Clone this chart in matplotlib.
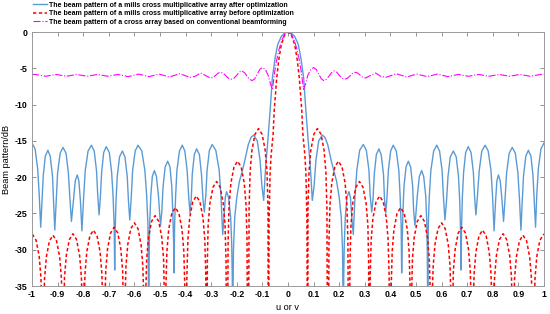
import numpy as np
import matplotlib
matplotlib.use("Agg")
import matplotlib.pyplot as plt
from matplotlib import font_manager

plt.rcParams['font.family'] = ['Liberation Sans', 'DejaVu Sans']
plt.rcParams['font.weight'] = 'bold'
plt.rcParams['axes.unicode_minus'] = False

labels = ["The beam pattern of a mills cross multiplicative array after optimization",
          "The beam pattern of a mills cross multiplicative array before optimization",
          "The beam pattern of a cross array based on conventional beamforming"]

# (u, dB), one lobe per line
after_left = [
    (-1.000, -15.3), (-0.988, -16.1), (-0.978, -18.8), (-0.972, -22.3), (-0.966, -26.9),
    (-0.961, -23.3), (-0.956, -19.8), (-0.948, -17.1), (-0.938, -16.3), (-0.929, -17.1), (-0.920, -19.8), (-0.916, -23.3), (-0.911, -27.3),
    (-0.905, -22.9), (-0.900, -19.4), (-0.890, -16.7), (-0.879, -15.9), (-0.867, -16.7), (-0.858, -19.4), (-0.852, -22.9), (-0.846, -26.1),
    (-0.838, -23.2), (-0.831, -20.5), (-0.823, -19.7), (-0.817, -20.5), (-0.811, -23.2), (-0.805, -27.4),
    (-0.798, -22.6), (-0.792, -19.1), (-0.781, -16.4), (-0.768, -15.6), (-0.757, -16.4), (-0.748, -19.1), (-0.743, -22.6), (-0.738, -25.2),
    (-0.733, -22.8), (-0.728, -19.3), (-0.720, -16.6), (-0.710, -15.8), (-0.698, -16.6), (-0.689, -19.3), (-0.683, -22.8), (-0.679, -26.8), (-0.677, -32.8),
    (-0.675, -27.4), (-0.672, -23.4), (-0.667, -19.9), (-0.658, -17.2), (-0.647, -16.4), (-0.637, -17.2), (-0.628, -19.9), (-0.623, -23.4), (-0.618, -25.9),
    (-0.612, -22.6), (-0.607, -19.1), (-0.597, -16.4), (-0.586, -15.6), (-0.571, -16.4), (-0.559, -19.1), (-0.552, -22.6), (-0.547, -26.6), (-0.544, -40.0),
    (-0.542, -30.1), (-0.540, -26.1), (-0.536, -22.6), (-0.530, -19.9), (-0.522, -19.1), (-0.514, -19.9), (-0.506, -22.6), (-0.498, -26.7),
    (-0.493, -24.8), (-0.488, -21.3), (-0.480, -18.6), (-0.470, -17.8), (-0.461, -18.6), (-0.454, -21.3), (-0.450, -24.8), (-0.447, -28.8), (-0.445, -33.2),
    (-0.443, -26.6), (-0.439, -22.6), (-0.434, -19.1), (-0.424, -16.4), (-0.413, -15.6), (-0.403, -16.4), (-0.394, -19.1), (-0.388, -22.6), (-0.383, -24.9),
    (-0.378, -23.1), (-0.374, -19.6), (-0.366, -16.9), (-0.357, -16.1), (-0.346, -16.9), (-0.338, -19.6), (-0.332, -23.1), (-0.327, -24.8),
    (-0.321, -22.5), (-0.316, -19.0), (-0.307, -16.3), (-0.296, -15.5), (-0.282, -16.3), (-0.269, -19.0), (-0.262, -22.5), (-0.255, -27.9),
    (-0.250, -25.5), (-0.245, -22.8), (-0.240, -22.0), (-0.232, -22.8), (-0.224, -25.5), (-0.220, -29.0), (-0.218, -33.0), (-0.216, -40.0),
    (-0.213, -30.0), (-0.208, -25.5), (-0.200, -22.8), (-0.190, -20.6), (-0.181, -19.5), (-0.170, -17.9), (-0.155, -15.5), (-0.144, -14.5), (-0.134, -14.2),
    (-0.120, -15.0), (-0.109, -17.7), (-0.102, -21.2), (-0.095, -23.2),
    (-0.092, -21.3), (-0.087, -18.4), (-0.080, -15.5), (-0.075, -13.2), (-0.070, -10.9), (-0.061, -6.3), (-0.050, -3.5), (-0.040, -1.7), (-0.026, -0.6), (-0.013, -0.15),
    (0.000, 0.0),
]
after_right = [
    (0.013, -0.15), (0.026, -0.6), (0.040, -1.7), (0.050, -3.5), (0.061, -6.3), (0.070, -10.9), (0.075, -13.2), (0.080, -15.5), (0.087, -18.4), (0.092, -21.3), (0.095, -23.2),
    (0.102, -21.2), (0.109, -17.7), (0.120, -15.0), (0.134, -14.2),
    (0.144, -14.5), (0.155, -15.5), (0.170, -17.9), (0.182, -19.5), (0.190, -20.6), (0.200, -22.8), (0.208, -25.5), (0.213, -30.0), (0.216, -40.0),
    (0.218, -33.0), (0.220, -29.0), (0.224, -25.5), (0.230, -22.8), (0.238, -22.0), (0.244, -22.8), (0.249, -25.5), (0.255, -27.9),
    (0.262, -22.5), (0.269, -19.0), (0.280, -16.3), (0.294, -15.5), (0.306, -16.3), (0.316, -19.0), (0.321, -22.5), (0.327, -24.8),
    (0.332, -23.1), (0.337, -19.6), (0.345, -16.9), (0.355, -16.1), (0.364, -16.9), (0.373, -19.6), (0.377, -23.1), (0.382, -24.9),
    (0.387, -22.6), (0.392, -19.1), (0.401, -16.4), (0.411, -15.6), (0.423, -16.4), (0.433, -19.1), (0.438, -22.6), (0.442, -26.6), (0.444, -33.2),
    (0.446, -28.8), (0.449, -24.8), (0.453, -21.3), (0.461, -18.6), (0.470, -17.8), (0.479, -18.6), (0.487, -21.3), (0.491, -24.8), (0.496, -26.7),
    (0.505, -22.6), (0.513, -19.9), (0.522, -19.1), (0.530, -19.9), (0.538, -22.6), (0.542, -26.1), (0.544, -30.1), (0.546, -40.0),
    (0.548, -26.6), (0.552, -22.6), (0.558, -19.1), (0.569, -16.4), (0.581, -15.6), (0.592, -16.4), (0.602, -19.1), (0.607, -22.6), (0.613, -25.9),
    (0.619, -23.4), (0.625, -19.9), (0.634, -17.2), (0.646, -16.4), (0.657, -17.2), (0.666, -19.9), (0.671, -23.4), (0.674, -27.4), (0.676, -32.8),
    (0.678, -26.8), (0.681, -22.8), (0.686, -19.3), (0.694, -16.6), (0.704, -15.8), (0.715, -16.6), (0.724, -19.3), (0.729, -22.8), (0.734, -25.2),
    (0.740, -22.6), (0.747, -19.1), (0.757, -16.4), (0.770, -15.6), (0.782, -16.4), (0.793, -19.1), (0.799, -22.6), (0.805, -27.4),
    (0.811, -23.2), (0.816, -20.5), (0.822, -19.7), (0.829, -20.5), (0.836, -23.2), (0.842, -26.1),
    (0.848, -22.9), (0.854, -19.4), (0.864, -16.7), (0.876, -15.9), (0.888, -16.7), (0.898, -19.4), (0.904, -22.9), (0.910, -27.3),
    (0.915, -23.3), (0.920, -19.8), (0.929, -17.1), (0.939, -16.3), (0.949, -17.1), (0.957, -19.8), (0.962, -23.3), (0.967, -26.9),
    (0.972, -22.3), (0.978, -18.8), (0.988, -16.1), (1.000, -15.3),
]

before_left = [
    (-1.000, -27.9), (-0.998, -27.9), (-0.984, -28.7), (-0.972, -30.9), (-0.965, -33.9), (-0.961, -38.9), (-0.958, -60),
    (-0.955, -39.0), (-0.951, -34.0), (-0.944, -31.0), (-0.932, -28.8), (-0.918, -28.0), (-0.904, -28.8), (-0.892, -31.0), (-0.885, -34.0), (-0.882, -39.0), (-0.879, -60),
    (-0.876, -38.8), (-0.873, -33.8), (-0.866, -30.8), (-0.854, -28.6), (-0.840, -27.8), (-0.826, -28.6), (-0.814, -30.8), (-0.807, -33.8), (-0.803, -38.8), (-0.800, -60),
    (-0.797, -38.3), (-0.793, -33.3), (-0.786, -30.3), (-0.774, -28.1), (-0.760, -27.3), (-0.746, -28.1), (-0.734, -30.3), (-0.727, -33.3), (-0.723, -38.3), (-0.720, -60),
    (-0.716, -37.9), (-0.712, -32.9), (-0.705, -29.9), (-0.693, -27.7), (-0.679, -26.9), (-0.665, -27.7), (-0.653, -29.9), (-0.646, -32.9), (-0.643, -37.9), (-0.640, -60),
    (-0.637, -37.3), (-0.633, -32.3), (-0.626, -29.3), (-0.614, -27.1), (-0.600, -26.3), (-0.586, -27.1), (-0.574, -29.3), (-0.567, -32.3), (-0.563, -37.3), (-0.560, -60),
    (-0.556, -36.3), (-0.552, -31.3), (-0.545, -28.3), (-0.533, -26.1), (-0.519, -25.3), (-0.505, -26.1), (-0.493, -28.3), (-0.486, -31.3), (-0.483, -36.3), (-0.480, -60),
    (-0.477, -35.2), (-0.473, -30.2), (-0.466, -27.2), (-0.454, -25.0), (-0.440, -24.2), (-0.426, -25.0), (-0.414, -27.2), (-0.407, -30.2), (-0.403, -35.2), (-0.399, -60),
    (-0.395, -33.6), (-0.391, -28.6), (-0.384, -25.6), (-0.372, -23.4), (-0.358, -22.6), (-0.344, -23.4), (-0.332, -25.6), (-0.325, -28.6), (-0.321, -33.6), (-0.318, -60),
    (-0.315, -31.6), (-0.312, -26.6), (-0.305, -23.6), (-0.293, -21.4), (-0.279, -20.6), (-0.265, -21.4), (-0.253, -23.6), (-0.246, -26.6), (-0.242, -31.6), (-0.238, -60),
    (-0.234, -28.8), (-0.230, -23.8), (-0.223, -20.8), (-0.211, -18.6), (-0.197, -17.8), (-0.183, -18.6), (-0.171, -20.8), (-0.164, -23.8), (-0.160, -28.8), (-0.156, -60),
    (-0.152, -24.3), (-0.148, -19.3), (-0.141, -16.3), (-0.129, -14.1), (-0.115, -13.3), (-0.101, -14.1), (-0.089, -16.3), (-0.082, -19.3), (-0.078, -24.3), (-0.077, -60),
    (-0.074, -26.0), (-0.070, -19.5), (-0.066, -17.0), (-0.058, -14.0), (-0.054, -10.9), (-0.044, -6.3), (-0.036, -3.8), (-0.026, -1.7), (-0.013, -0.4),
    (0.000, 0.0),
]
before_right = [
    (0.013, -0.4), (0.026, -1.7), (0.036, -3.8), (0.044, -6.3), (0.054, -10.9), (0.058, -14.0), (0.066, -17.0), (0.070, -19.5), (0.074, -26.0), (0.077, -60),
    (0.078, -24.3), (0.082, -19.3), (0.089, -16.3), (0.101, -14.1), (0.115, -13.3), (0.129, -14.1), (0.141, -16.3), (0.148, -19.3), (0.152, -24.3), (0.156, -60),
    (0.160, -28.8), (0.164, -23.8), (0.171, -20.8), (0.183, -18.6), (0.197, -17.8), (0.211, -18.6), (0.223, -20.8), (0.230, -23.8), (0.234, -28.8), (0.238, -60),
    (0.242, -31.6), (0.246, -26.6), (0.253, -23.6), (0.265, -21.4), (0.279, -20.6), (0.293, -21.4), (0.305, -23.6), (0.312, -26.6), (0.315, -31.6), (0.318, -60),
    (0.321, -33.6), (0.325, -28.6), (0.332, -25.6), (0.344, -23.4), (0.358, -22.6), (0.372, -23.4), (0.384, -25.6), (0.391, -28.6), (0.395, -33.6), (0.399, -60),
    (0.403, -35.2), (0.407, -30.2), (0.414, -27.2), (0.426, -25.0), (0.440, -24.2), (0.454, -25.0), (0.466, -27.2), (0.473, -30.2), (0.477, -35.2), (0.480, -60),
    (0.483, -36.3), (0.486, -31.3), (0.493, -28.3), (0.505, -26.1), (0.519, -25.3), (0.533, -26.1), (0.545, -28.3), (0.552, -31.3), (0.556, -36.3), (0.560, -60),
    (0.563, -37.3), (0.567, -32.3), (0.574, -29.3), (0.586, -27.1), (0.600, -26.3), (0.614, -27.1), (0.626, -29.3), (0.633, -32.3), (0.637, -37.3), (0.640, -60),
    (0.643, -37.9), (0.646, -32.9), (0.653, -29.9), (0.665, -27.7), (0.679, -26.9), (0.693, -27.7), (0.705, -29.9), (0.712, -32.9), (0.716, -37.9), (0.720, -60),
    (0.723, -38.3), (0.727, -33.3), (0.734, -30.3), (0.746, -28.1), (0.760, -27.3), (0.774, -28.1), (0.786, -30.3), (0.793, -33.3), (0.797, -38.3), (0.800, -60),
    (0.803, -38.8), (0.807, -33.8), (0.814, -30.8), (0.826, -28.6), (0.840, -27.8), (0.854, -28.6), (0.866, -30.8), (0.873, -33.8), (0.876, -38.8), (0.879, -60),
    (0.882, -39.0), (0.885, -34.0), (0.892, -31.0), (0.904, -28.8), (0.918, -28.0), (0.932, -28.8), (0.944, -31.0), (0.951, -34.0), (0.955, -39.0), (0.958, -60),
    (0.961, -38.9), (0.965, -33.9), (0.972, -30.9), (0.984, -28.7), (0.998, -27.9), (1.000, -27.9),
]

cross_left = [
    (-1.000, -5.85), (-0.987, -5.85), (-0.946, -6.1), (-0.906, -5.85), (-0.865, -6.1), (-0.826, -5.85), (-0.785, -6.1),
    (-0.745, -5.85), (-0.704, -6.1), (-0.665, -5.85), (-0.624, -6.15), (-0.584, -5.8), (-0.543, -6.15), (-0.504, -5.8),
    (-0.463, -6.2), (-0.423, -5.75), (-0.382, -6.25), (-0.362, -6.1), (-0.342, -5.65), (-0.322, -6.0), (-0.302, -6.35),
    (-0.292, -6.25), (-0.282, -5.95), (-0.272, -5.65), (-0.262, -5.55), (-0.252, -5.7), (-0.241, -6.1), (-0.231, -6.4), (-0.221, -6.5),
    (-0.211, -6.35), (-0.201, -6.0), (-0.191, -5.55), (-0.181, -5.35), (-0.170, -5.6), (-0.160, -6.1), (-0.150, -6.5), (-0.140, -6.7),
    (-0.130, -6.45), (-0.120, -5.8), (-0.110, -5.15), (-0.100, -4.9), (-0.088, -5.2), (-0.077, -6.0), (-0.068, -7.2), (-0.061, -7.9),
    (-0.057, -6.9), (-0.052, -5.5), (-0.045, -4.0), (-0.035, -2.4), (-0.025, -1.2), (-0.013, -0.3),
    (0.000, 0.0),
]
cross_right = [
    (0.013, -0.3), (0.025, -1.2), (0.035, -2.4), (0.045, -4.0), (0.052, -5.5), (0.057, -6.9),
    (0.061, -7.9), (0.068, -7.2), (0.077, -6.0), (0.088, -5.2), (0.100, -4.9), (0.110, -5.15), (0.120, -5.8), (0.130, -6.45),
    (0.140, -6.7), (0.150, -6.5), (0.160, -6.1), (0.170, -5.6), (0.181, -5.35), (0.191, -5.55), (0.201, -6.0), (0.211, -6.35),
    (0.221, -6.5), (0.231, -6.4), (0.241, -6.1), (0.252, -5.7), (0.262, -5.55), (0.272, -5.65), (0.282, -5.95), (0.292, -6.25),
    (0.302, -6.35), (0.322, -6.0), (0.342, -5.65), (0.362, -6.1), (0.382, -6.25), (0.423, -5.75), (0.463, -6.2),
    (0.504, -5.8), (0.543, -6.15), (0.584, -5.8), (0.624, -6.15), (0.665, -5.85), (0.704, -6.1), (0.745, -5.85),
    (0.785, -6.1), (0.826, -5.85), (0.865, -6.1), (0.906, -5.85), (0.946, -6.1), (0.987, -5.85), (1.000, -5.85),
]

x_ticks = [-1, -0.9, -0.8, -0.7, -0.6, -0.5, -0.4, -0.3, -0.2, -0.1, 0, 0.1, 0.2, 0.3, 0.4, 0.5, 0.6, 0.7, 0.8, 0.9, 1]
x_ticklabels = ["-1", "-0.9", "-0.8", "-0.7", "-0.6", "-0.5", "-0.4", "-0.3", "-0.2", "-0.1", "0",
                "0.1", "0.2", "0.3", "0.4", "0.5", "0.6", "0.7", "0.8", "0.9", "1"]
y_ticks = [-35, -30, -25, -20, -15, -10, -5, 0]


def split(points):
    arr = np.array(points)
    return arr[:, 0], arr[:, 1]


# narrow face for the legend if the system has it
installed = {f.name for f in font_manager.fontManager.ttflist}
if 'Liberation Sans Narrow' in installed:
    legend_font = dict(family=['Liberation Sans Narrow', 'DejaVu Sans'], weight='bold', size=6.0)
else:
    legend_font = dict(family=['Liberation Sans', 'DejaVu Sans'], weight='bold', size=5.0)

fig = plt.figure(figsize=(5.5, 3.14), dpi=100)
ax = fig.add_axes([32 / 550, 28 / 314, 512 / 550, 254 / 314])

u1, d1 = split(after_left + after_right)
u2, d2 = split(before_left + before_right)
u3, d3 = split(cross_left + cross_right)

l1, = ax.plot(u1, d1, color='#5b9bd5', lw=1.0)
l2, = ax.plot(u2, d2, color='#ff0000', lw=1.1, linestyle=(0, (2.2, 1.6)))
l3, = ax.plot(u3, d3, color='#ff00ff', lw=0.8, linestyle='-.')

ax.set_xlim(-1, 1)
ax.set_ylim(-35, 0)
ax.set_xticks(x_ticks)
ax.set_xticklabels(x_ticklabels)
ax.set_yticks(y_ticks)
ax.tick_params(direction='in', top=True, right=True, length=3, width=0.6,
               color='#808080', labelsize=6.3, pad=3)
for s in ax.spines.values():
    s.set_color('#9a9a9a')
    s.set_linewidth(0.7)

ax.set_xlabel("u or v", fontsize=6.6, labelpad=3)
ax.set_ylabel("Beam pattern/dB", fontsize=6.6, labelpad=3)

fig.legend([l1, l2, l3], labels, loc='upper left', bbox_to_anchor=(0.06, 0.994),
           frameon=False, prop=legend_font, handlelength=2.0, handletextpad=0.3,
           labelspacing=0.2, borderaxespad=0, borderpad=0)

fig.savefig("out.png", dpi=100)
